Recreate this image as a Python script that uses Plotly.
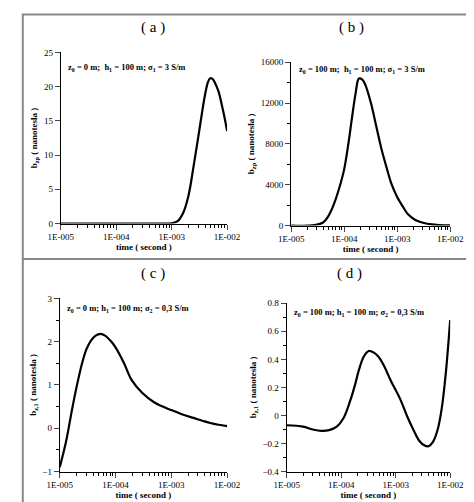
import plotly.graph_objects as go

# time in seconds (log spacing)
tA = [1e-5, 1e-4, 5e-4, 1e-3, 1.3e-3, 1.6e-3, 2e-3, 2.5e-3, 3e-3, 3.5e-3, 4e-3, 4.5e-3, 4.9e-3, 5.5e-3, 6e-3, 7e-3, 8e-3, 9e-3, 1e-2]
bA = [0, 0, 0, 0.05, 0.4, 1.5, 4.0, 8.5, 12.5, 16.0, 18.8, 20.6, 21.2, 21.1, 20.6, 19.3, 17.4, 15.5, 13.5]

tB = [1e-5, 2.5e-5, 4e-5, 5e-5, 6.3e-5, 8e-5, 1e-4, 1.2e-4, 1.4e-4, 1.65e-4, 1.9e-4, 2.2e-4, 2.5e-4, 3.2e-4, 4e-4, 5e-4, 6.3e-4, 7.9e-4, 1e-3, 1.3e-3, 1.6e-3, 2.2e-3, 3.2e-3, 4.5e-3, 6.3e-3, 1e-2]
bB = [0, 20, 300, 900, 2000, 3600, 5500, 8000, 10500, 13000, 14400, 14300, 13800, 12000, 9800, 7600, 5700, 4000, 2800, 1800, 1100, 550, 250, 110, 50, 10]

tC = [1e-5, 1.3e-5, 1.66e-5, 2e-5, 2.5e-5, 3e-5, 3.6e-5, 4.4e-5, 5.4e-5, 6.5e-5, 8e-5, 1e-4, 1.4e-4, 1.95e-4, 3e-4, 4.9e-4, 7e-4, 1e-3, 1.5e-3, 2.3e-3, 3.5e-3, 5e-3, 7e-3, 1e-2]
bC = [-0.9, -0.3, 0.43, 0.95, 1.49, 1.82, 2.02, 2.14, 2.18, 2.14, 2.03, 1.87, 1.52, 1.11, 0.82, 0.6, 0.5, 0.42, 0.33, 0.25, 0.18, 0.12, 0.08, 0.05]

tD = [1e-5, 2e-5, 3e-5, 4.4e-5, 6e-5, 8.3e-5, 1.1e-4, 1.45e-4, 1.8e-4, 2.1e-4, 2.6e-4, 3.2e-4, 3.9e-4, 4.8e-4, 6e-4, 8.1e-4, 1.2e-3, 1.6e-3, 2.1e-3, 2.7e-3, 3.4e-3, 4e-3, 4.8e-3, 5.9e-3, 7e-3, 8.3e-3, 1e-2]
bD = [-0.07, -0.08, -0.1, -0.11, -0.105, -0.08, -0.02, 0.1, 0.22, 0.32, 0.42, 0.46, 0.45, 0.42, 0.36, 0.25, 0.12, 0.0, -0.1, -0.18, -0.215, -0.22, -0.19, -0.1, 0.05, 0.3, 0.68]

xTicks = [1e-5, 1e-4, 1e-3, 1e-2]
xLabels = ["1E-005", "1E-004", "1E-003", "1E-002"]
xMinor = [m * 10.0 ** e for e in (-5, -4, -3) for m in range(2, 10)]

serif = "Liberation Serif"
fig = go.Figure()

panels = [
    (tA, bA, [0.089, 0.46], [0.572, 0.920], [0, 25], 5, "b<sub>zp</sub> ( nanotesla )", "( a )",
     "z<sub>0</sub> = 0 m;  h<sub>1</sub> = 100 m; σ<sub>1</sub> = 3 S/m", 0.03),
    (tB, bB, [0.603, 0.958], [0.568, 0.900], [0, 16000], 4000, "b<sub>zp</sub> ( nanotesla )", "( b )",
     "z<sub>0</sub> = 100 m;  h<sub>1</sub> = 100 m; σ<sub>1</sub> = 3 S/m", 0.014),
    (tC, bC, [0.0865, 0.46], [0.068, 0.420], [-1, 3], 1, "b<sub>z,1</sub> ( nanotesla )", "( c )",
     "z<sub>0</sub> = 0 m; h<sub>1</sub> = 100 m; σ<sub>2</sub> = 0,3 S/m", 0.02),
    (tD, bD, [0.593, 0.958], [0.068, 0.410], [-0.4, 0.8], 0.2, "b<sub>z,1</sub> ( nanotesla )", "( d )",
     "z<sub>0</sub> = 100 m; h<sub>1</sub> = 100 m; σ<sub>2</sub> = 0,3 S/m", 0.018),
]

for i, (t, b, dx, dy, yr, dt, ytitle, label, note, noteOff) in enumerate(panels, start=1):
    xa = "x" if i == 1 else f"x{i}"
    ya = "y" if i == 1 else f"y{i}"
    fig.add_trace(go.Scatter(x=t, y=b, mode="lines", line=dict(color="black", width=2.2, shape="spline", smoothing=1),
                             xaxis=xa, yaxis=ya, showlegend=False))
    axis_font = dict(family=serif, size=9, color="black")
    fig.update_layout(**{
        ("xaxis" if i == 1 else f"xaxis{i}"): dict(
            type="log", domain=dx, anchor=ya, range=[-5, -2], tickvals=xTicks, ticktext=xLabels,
            showline=True, linecolor="black", linewidth=1, ticks="outside", ticklen=5, showgrid=False,
            zeroline=False, tickfont=axis_font,
            minor=dict(ticks="outside", ticklen=3, tickvals=xMinor, showgrid=False, tickcolor="black"),
            title=dict(text="<b>time ( second )</b>", font=dict(family=serif, size=9), standoff=2)),
        ("yaxis" if i == 1 else f"yaxis{i}"): dict(
            domain=dy, anchor=xa, range=yr, dtick=dt, showline=True, linecolor="black", linewidth=1,
            ticks="outside", ticklen=5, showgrid=False, zeroline=False, tickfont=axis_font, tickformat="~r",
            minor=dict(ticks="outside", ticklen=3, nticks=2, showgrid=False, tickcolor="black"),
            title=dict(text="<b>" + ytitle + "</b>", font=dict(family=serif, size=9), standoff=4)),
    })
    fig.add_annotation(text=label, xref="paper", yref="paper", x=(dx[0] + dx[1]) / 2 - 0.01,
                       y=(0.97 if i <= 2 else 0.47), showarrow=False, yanchor="middle",
                       font=dict(family=serif, size=15, color="black"))
    fig.add_annotation(text="<b>" + note + "</b>", xref="paper", yref="paper", x=dx[0] + 0.012,
                       y=dy[1] - noteOff, xanchor="left", yanchor="middle", showarrow=False,
                       font=dict(family=serif, size=8.5, color="black"))

fig.add_shape(type="rect", xref="paper", yref="paper", x0=0.004, x1=0.996, y0=0.003, y1=0.997,
              line=dict(color="#888888", width=2))
fig.add_shape(type="line", xref="paper", yref="paper", x0=0.004, x1=0.996, y0=0.5, y1=0.5,
              line=dict(color="#888888", width=2))

fig.update_layout(width=474, height=502, margin=dict(l=0, r=0, t=0, b=0),
                  plot_bgcolor="white", paper_bgcolor="white", font=dict(family=serif, color="black"))
fig.write_html("out.html")
